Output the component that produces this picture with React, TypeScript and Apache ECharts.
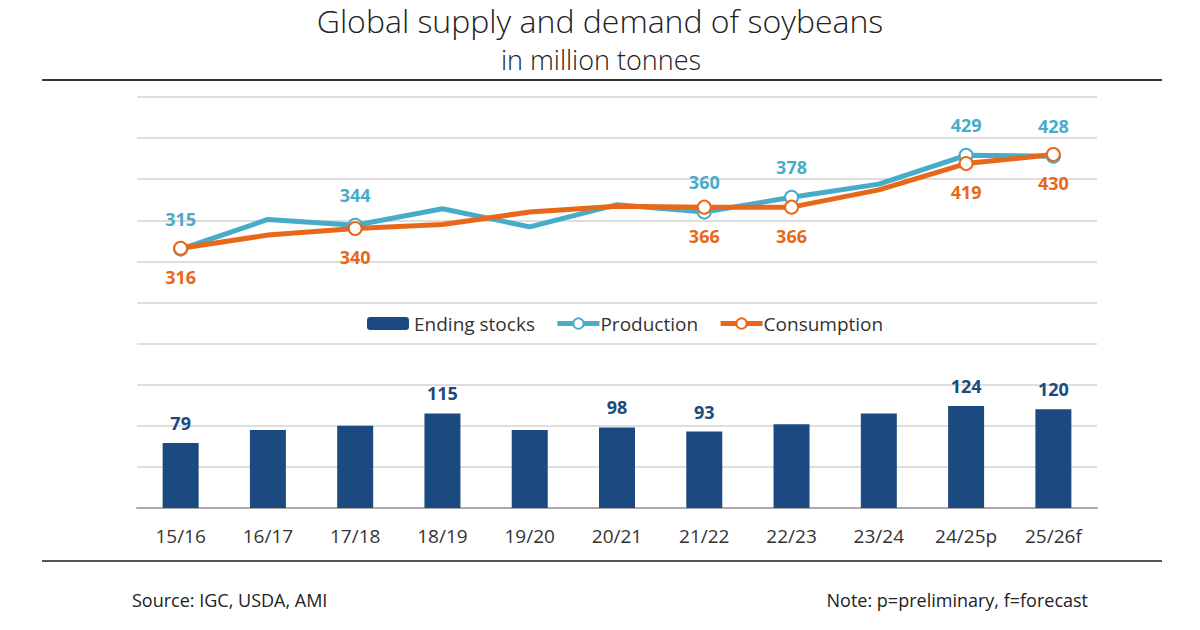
import React, { useEffect, useRef } from "react";
import * as echarts from "echarts";

const categories = ["15/16", "16/17", "17/18", "18/19", "19/20", "20/21", "21/22", "22/23", "23/24", "24/25p", "25/26f"];
const endingStocks = [79, 95, 100, 115, 95, 98, 93, 102, 115, 124, 120];
const production = [315, 351, 344, 364, 342, 369, 360, 378, 394, 429, 428];
const consumption = [316, 332, 340, 345, 360, 367, 366, 366, 387, 419, 430];
const stockLabelIdx = [0, 3, 5, 6, 9, 10];
const productionLabelIdx = [0, 2, 6, 7, 9, 10];
const consumptionLabelIdx = [0, 2, 6, 7, 9, 10];

const NAVY = "#1b4a80";
const BLUE = "#48abca";
const ORANGE = "#e8681a";
const FONT = "'Open Sans', 'Noto Sans', sans-serif";

export default function App() {
  const ref = useRef<HTMLDivElement>(null);
  useEffect(() => {
    const chart = echarts.init(ref.current!, null, { renderer: "svg" });
    const lineData = (vals: number[], idx: number[], color: string, pos: string, dist: number) =>
      vals.map((v, i) => {
        const on = idx.includes(i);
        return {
          value: v,
          symbol: on ? "circle" : "none",
          label: { show: on, position: pos, distance: dist, color, fontWeight: "bold", fontSize: 18, fontFamily: FONT },
        };
      });
    chart.setOption({
      animation: false,
      backgroundColor: "#fff",
      grid: { left: 137, right: 103, top: 97, bottom: 122 },
      legend: {
        top: 309,
        left: 362,
        itemGap: 20,
        itemWidth: 42,
        itemHeight: 13,
        textStyle: { fontSize: 19, color: "#333", fontFamily: FONT },
        data: [
          { name: "Ending stocks", textStyle: { padding: [0, 0, 0, 0] } },
          { name: "Production", lineStyle: { width: 5 }, textStyle: { padding: [0, 0, 0, -4] } },
          { name: "Consumption", lineStyle: { width: 5 }, textStyle: { padding: [0, 0, 0, -4] } },
        ],
      },
      xAxis: {
        type: "category",
        data: categories,
        axisTick: { show: false },
        axisLine: { lineStyle: { color: "#aaa", width: 2 } },
        axisLabel: { fontSize: 19, color: "#333", margin: 18, fontFamily: FONT },
      },
      yAxis: {
        type: "value",
        min: 0,
        max: 500,
        interval: 50,
        axisLabel: { show: false },
        splitLine: { lineStyle: { color: "#dedede", width: 2 } },
      },
      series: [
        {
          name: "Ending stocks",
          type: "bar",
          barWidth: 36,
          itemStyle: { color: NAVY },
          data: endingStocks.map((v, i) => ({
            value: v,
            label: { show: stockLabelIdx.includes(i) },
          })),
          label: { position: "top", distance: 11, color: NAVY, fontWeight: "bold", fontSize: 18, fontFamily: FONT },
        },
        {
          name: "Production",
          type: "line",
          symbol: "circle",
          symbolSize: 13,
          lineStyle: { color: BLUE, width: 5 },
          itemStyle: { color: "#fff", borderColor: BLUE, borderWidth: 2 },
          data: lineData(production, productionLabelIdx, BLUE, "top", 14),
        },
        {
          name: "Consumption",
          type: "line",
          symbol: "circle",
          symbolSize: 13,
          lineStyle: { color: ORANGE, width: 5 },
          itemStyle: { color: "#fff", borderColor: ORANGE, borderWidth: 2 },
          data: lineData(consumption, consumptionLabelIdx, ORANGE, "bottom", 12),
        },
      ],
      graphic: [
        {
          type: "text",
          x: 600,
          y: 20,
          style: { text: "Global supply and demand of soybeans", fontSize: 32, fontWeight: 300, fontFamily: FONT, fill: "#222", align: "center", verticalAlign: "middle" },
        },
        {
          type: "text",
          x: 601,
          y: 59,
          style: { text: "in million tonnes", fontSize: 27, fontWeight: 300, fontFamily: FONT, fill: "#222", align: "center", verticalAlign: "middle" },
        },
        { type: "line", shape: { x1: 42, y1: 80, x2: 1162, y2: 80 }, style: { stroke: "#333", lineWidth: 2 } },
        { type: "line", shape: { x1: 42, y1: 561, x2: 1162, y2: 561 }, style: { stroke: "#555", lineWidth: 2 } },
        {
          type: "text",
          x: 132,
          y: 600,
          style: { text: "Source: IGC, USDA, AMI", fontSize: 18, fontFamily: FONT, fill: "#222", align: "left", verticalAlign: "middle" },
        },
        {
          type: "text",
          x: 1088,
          y: 600,
          style: { text: "Note: p=preliminary, f=forecast", fontSize: 18, fontFamily: FONT, fill: "#222", align: "right", verticalAlign: "middle" },
        },
      ],
    });
    return () => chart.dispose();
  }, []);
  return <div ref={ref} style={{ width: 1200, height: 630, margin: -8 }} />;
}
